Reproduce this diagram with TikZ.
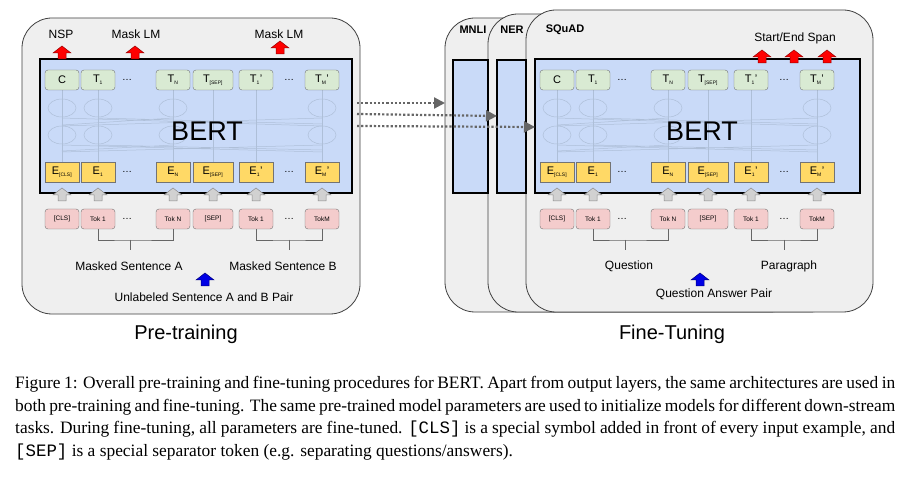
\documentclass[tikz,border=0pt]{standalone}
\usepackage{fontspec}
\setmainfont{Liberation Sans}
\newfontfamily\capfont{Liberation Serif}
\newfontfamily\capmono{Liberation Mono}
\usepackage{xcolor}
\usetikzlibrary{calc,arrows.meta}
\definecolor{panelgray}{HTML}{EFEFEF}
\definecolor{bertblue}{HTML}{C9DAF8}
\definecolor{outgreen}{HTML}{D9EAD3}
\definecolor{embyellow}{HTML}{FFD966}
\definecolor{inpink}{HTML}{F4CCCC}
\definecolor{netline}{HTML}{AEBFD8}

\tikzset{
	panel/.style={draw=black!75, fill=panelgray, rounded corners=30pt, line width=0.8pt},
	bertbox/.style={draw=black, fill=bertblue, line width=1.8pt},
	tok/.style={draw=black!55, rounded corners=3pt, minimum height=20pt, inner sep=1pt, font=\fontsize{11}{11}\selectfont},
	outtok/.style={tok, fill=outgreen},
	emb/.style={tok, fill=embyellow, rounded corners=0pt},
	intok/.style={tok, fill=inpink, font=\fontsize{6.5}{7}\selectfont},
	net/.style={draw=netline, line width=0.5pt},
	lbl/.style={font=\fontsize{12}{13}\selectfont},
	dotarr/.style={draw=black!60, line width=2.2pt, dotted, -{Triangle[length=11pt,width=11pt]}}
}
% block arrow: x, base y, fill, border
\newcommand\blockup[4]{%
	\filldraw[fill=#3, draw=#4, line width=0.5pt] ({#1-4},#2) -- ({#1+4},#2) -- ({#1+4},{#2-6}) -- ({#1+9},{#2-6}) -- (#1,{#2-13}) -- ({#1-9},{#2-6}) -- ({#1-4},{#2-6}) -- cycle;}

\begin{document}
\begin{tikzpicture}[x=1pt, y=-1pt]
	\useasboundingbox (0,0) rectangle (910,494);
	\fill[white] (0,0) rectangle (910,494);
	% panels
	\draw[panel] (22,18) rectangle (360,314);
	\draw[panel] (445,18) rectangle (800,312);
	\draw[panel] (488,14) rectangle (840,312);
	\draw[panel] (526,10) rectangle (873,312);
	\node[font=\bfseries\fontsize{11}{11}\selectfont] (mnli) at (473,30) {MNLI};
	\node[font=\bfseries\fontsize{11}{11}\selectfont] (ner) at (512,30) {NER};
	\node[font=\bfseries\fontsize{11}{11}\selectfont] (squad) at (565,30) {SQuAD};
	\draw[bertbox] (453,60) rectangle (488,193);
	\draw[bertbox] (497,60) rectangle (526,193);
	% the two BERT models
	\foreach \p/\s/\r in {L/0/352, R/495/365}{
		\begin{scope}[xshift=\s]
			\draw[bertbox] (40,59) rectangle (\r,193);
			\foreach \x/\w/\t/\e/\i [count=\k] in {62/34/C/{E$_{\mbox{\tiny[CLS]}}$}/[CLS], 98/34/{T$_{\mbox{\tiny 1}}$}/{E$_{\mbox{\tiny 1}}$}/Tok 1, 173/34/{T$_{\mbox{\tiny N}}$}/{E$_{\mbox{\tiny N}}$}/Tok N, 213/40/{T$_{\mbox{\tiny[SEP]}}$}/{E$_{\mbox{\tiny[SEP]}}$}/[SEP], 256/34/{T$_{\mbox{\tiny 1}}$'}/{E$_{\mbox{\tiny 1}}$'}/Tok 1, 322/34/{T$_{\mbox{\tiny M}}$'}/{E$_{\mbox{\tiny M}}$'}/TokM}{
				\draw[net] (\x,90) -- (\x,162);
				\node[outtok, minimum width=\w] (\p t\k) at (\x,80) {\t};
				\node[emb, minimum width=\w] (\p e\k) at (\x,172) {\e};
				\node[intok, minimum width=\w] (\p i\k) at (\x,219) {\i};
				\blockup{\x}{201}{black!18}{black!45}
			}
			\foreach \k in {1,2,3,6}{
				\draw[net] (\p t\k.south |- 0,108) ellipse (14 and 9);
				\draw[net] (\p t\k.south |- 0,135) ellipse (14 and 9);
			}
			\draw[net] (62,118) -- (322,126) (322,118) -- (62,126) (98,118) -- (322,124) (173,118) -- (62,125);
			\draw[net] (62,145) -- (322,152) (322,145) -- (62,152) (98,145) -- (322,150) (173,145) -- (62,151);
			\foreach \y in {80,172,219}{
				\node (\p d\y a) at (127,\y) {\dots};
				\node (\p d\y b) at (289,\y) {\dots};
			}
			\node[font=\fontsize{27}{27}\selectfont] (\p bert) at (207,131) {BERT};
			\coordinate (\p ja) at (130,240);
			\coordinate (\p jb) at (289,240);
			\draw[black!60] (\p i2.south) |- (\p ja) -| (\p i3.south);
			\draw[black!60] (\p i5.south) |- (\p jb) -| (\p i6.south);
			\draw[black!60] (\p ja) -- ++(0,10);
			\draw[black!60] (\p jb) -- ++(0,10);
			\blockup{205}{286}{blue!90!black}{blue!50!black}
		\end{scope}
	}
	% pre-training labels
	\blockup{62}{59}{red}{red!60!black}
	\blockup{135}{59}{red}{red!60!black}
	\blockup{280}{54}{red}{red!60!black}
	\node[lbl] (nsp) at (61,34) {NSP};
	\node[lbl] (mlm1) at (136,34) {Mask LM};
	\node[lbl] (mlm2) at (279,34) {Mask LM};
	\node[lbl] (sa) at (129,266) {Masked Sentence A};
	\node[lbl] (sb) at (283,266) {Masked Sentence B};
	\node[lbl] (pair) at (204,297) {Unlabeled Sentence A and B Pair};
	\node[font=\fontsize{20}{21}\selectfont] (pre) at (186,334) {Pre-training};
	% fine-tuning labels
	\blockup{762}{63}{red}{red!60!black}
	\blockup{794}{63}{red}{red!60!black}
	\blockup{827}{63}{red}{red!60!black}
	\node[lbl] (span) at (795,38) {Start/End Span};
	\node[lbl] (q) at (629,266) {Question};
	\node[lbl] (para) at (789,266) {Paragraph};
	\node[lbl] (qa) at (714,294) {Question Answer Pair};
	\node[font=\fontsize{20}{21}\selectfont] (fine) at (672,334) {Fine-Tuning};
	% transfer arrows
	\coordinate (s1) at (357,103);
	\coordinate (s2) at (357,114);
	\coordinate (s3) at (357,126);
	\draw[dotarr] (s1) -- (445,103);
	\draw[dotarr] (s2) -- (497,116);
	\draw[dotarr] (s3) -- (535,127);
	% caption
	\node[anchor=north west, text width=880pt, align=justify, inner sep=0pt, font=\capfont\fontsize{17.4}{22.6}\selectfont] (cap) at (15,376) {Figure 1: Overall pre-training and fine-tuning procedures for BERT. Apart from output layers, the same architec\-tures are used in both pre-training and fine-tuning. The same pre-trained model parameters are used to initialize models for different down-stream tasks. During fine-tuning, all parameters are fine-tuned. {\capmono [CLS]} is a special symbol added in front of every input example, and {\capmono [SEP]} is a special separator token (e.g. separating ques\-tions/answers).};
\end{tikzpicture}
\end{document}
